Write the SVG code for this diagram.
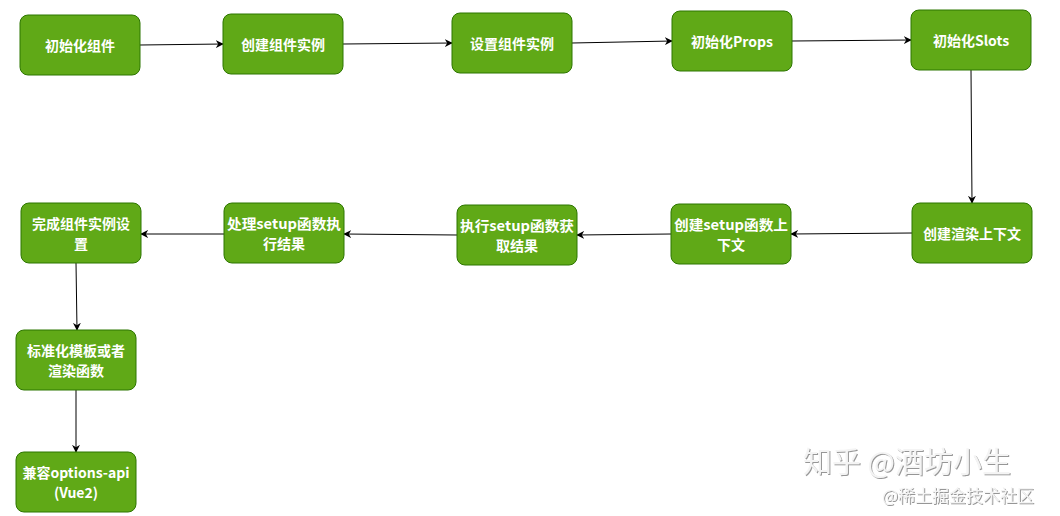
<svg xmlns="http://www.w3.org/2000/svg" width="1060" height="516" viewBox="0 0 1060 516">
<style>
.n{fill:#60a917;stroke:#2d7600;stroke-width:1}
.t{fill:#ffffff;font-family:"Noto Sans CJK SC","DejaVu Sans",sans-serif;font-size:14px;font-weight:bold;text-anchor:middle;dominant-baseline:central}
.e{fill:none;stroke:#000000;stroke-width:1}
.w{fill:#f4f4f4;font-family:"Noto Sans CJK SC",sans-serif;filter:url(#sh)}
</style>
<defs>
<marker id="a" viewBox="0 0 10 10" refX="9" refY="5" markerWidth="8" markerHeight="8" markerUnits="userSpaceOnUse" orient="auto">
<path d="M0,0 L10,5 L0,10 L3,5 Z" fill="#000"/>
</marker>
<filter id="sh" x="-10%" y="-30%" width="120%" height="160%">
<feDropShadow dx="1" dy="1" stdDeviation="0.6" flood-color="#8a8a8a" flood-opacity="0.9"/>
</filter>
</defs>
<rect width="1060" height="516" fill="#ffffff"/>
<g id="edges">
<path class="e" d="M140,45 L223,44" marker-end="url(#a)"/>
<path class="e" d="M343,44 L452,43" marker-end="url(#a)"/>
<path class="e" d="M572,43 L672,41" marker-end="url(#a)"/>
<path class="e" d="M792,41 L911,40" marker-end="url(#a)"/>
<path class="e" d="M971,70 L972,203" marker-end="url(#a)"/>
<path class="e" d="M912,233 L791,234" marker-end="url(#a)"/>
<path class="e" d="M671,234 L577,235" marker-end="url(#a)"/>
<path class="e" d="M457,235 L344,234" marker-end="url(#a)"/>
<path class="e" d="M224,234 L141,234" marker-end="url(#a)"/>
<path class="e" d="M76,263 L77,330" marker-end="url(#a)"/>
<path class="e" d="M76,390 L76,452" marker-end="url(#a)"/>
</g>
<g id="n1"><rect class="n" x="20" y="15" width="120" height="60" rx="8"/><text class="t" x="80" y="45">初始化组件</text></g>
<g id="n2"><rect class="n" x="223" y="14" width="120" height="60" rx="8"/><text class="t" x="283" y="44">创建组件实例</text></g>
<g id="n3"><rect class="n" x="452" y="13" width="120" height="60" rx="8"/><text class="t" x="512" y="43">设置组件实例</text></g>
<g id="n4"><rect class="n" x="672" y="11" width="120" height="60" rx="8"/><text class="t" x="732" y="41">初始化Props</text></g>
<g id="n5"><rect class="n" x="911" y="10" width="120" height="60" rx="8"/><text class="t" x="971" y="40">初始化Slots</text></g>
<g id="n6"><rect class="n" x="912" y="203" width="120" height="60" rx="8"/><text class="t" x="972" y="233">创建渲染上下文</text></g>
<g id="n7"><rect class="n" x="671" y="204" width="120" height="60" rx="8"/><text class="t" x="731" y="223.75"><tspan x="731" textLength="114" lengthAdjust="spacingAndGlyphs">创建setup函数上</tspan><tspan x="731" dy="20.5">下文</tspan></text></g>
<g id="n8"><rect class="n" x="457" y="205" width="120" height="60" rx="8"/><text class="t" x="517" y="224.75"><tspan x="517" textLength="114" lengthAdjust="spacingAndGlyphs">执行setup函数获</tspan><tspan x="517" dy="20.5">取结果</tspan></text></g>
<g id="n9"><rect class="n" x="224" y="203" width="120" height="60" rx="8"/><text class="t" x="284" y="222.75"><tspan x="284" textLength="114" lengthAdjust="spacingAndGlyphs">处理setup函数执</tspan><tspan x="284" dy="20.5">行结果</tspan></text></g>
<g id="n10"><rect class="n" x="21" y="203" width="120" height="60" rx="8"/><text class="t" x="81" y="222.75"><tspan x="81">完成组件实例设</tspan><tspan x="81" dy="20.5">置</tspan></text></g>
<g id="n11"><rect class="n" x="16" y="330" width="120" height="60" rx="8"/><text class="t" x="76" y="349.75"><tspan x="76">标准化模板或者</tspan><tspan x="76" dy="20.5">渲染函数</tspan></text></g>
<g id="n12"><rect class="n" x="16" y="452" width="120" height="60" rx="8"/><text class="t" x="76" y="471.75"><tspan x="76">兼容options-api</tspan><tspan x="76" dy="20.5">(Vue2)</tspan></text></g>
<g id="watermark">
<text class="w" x="803" y="473"><tspan font-size="29">知乎 @酒坊小生</tspan><tspan x="882" y="502" font-size="17">@稀土掘金技术社区</tspan></text>
</g>
</svg>
